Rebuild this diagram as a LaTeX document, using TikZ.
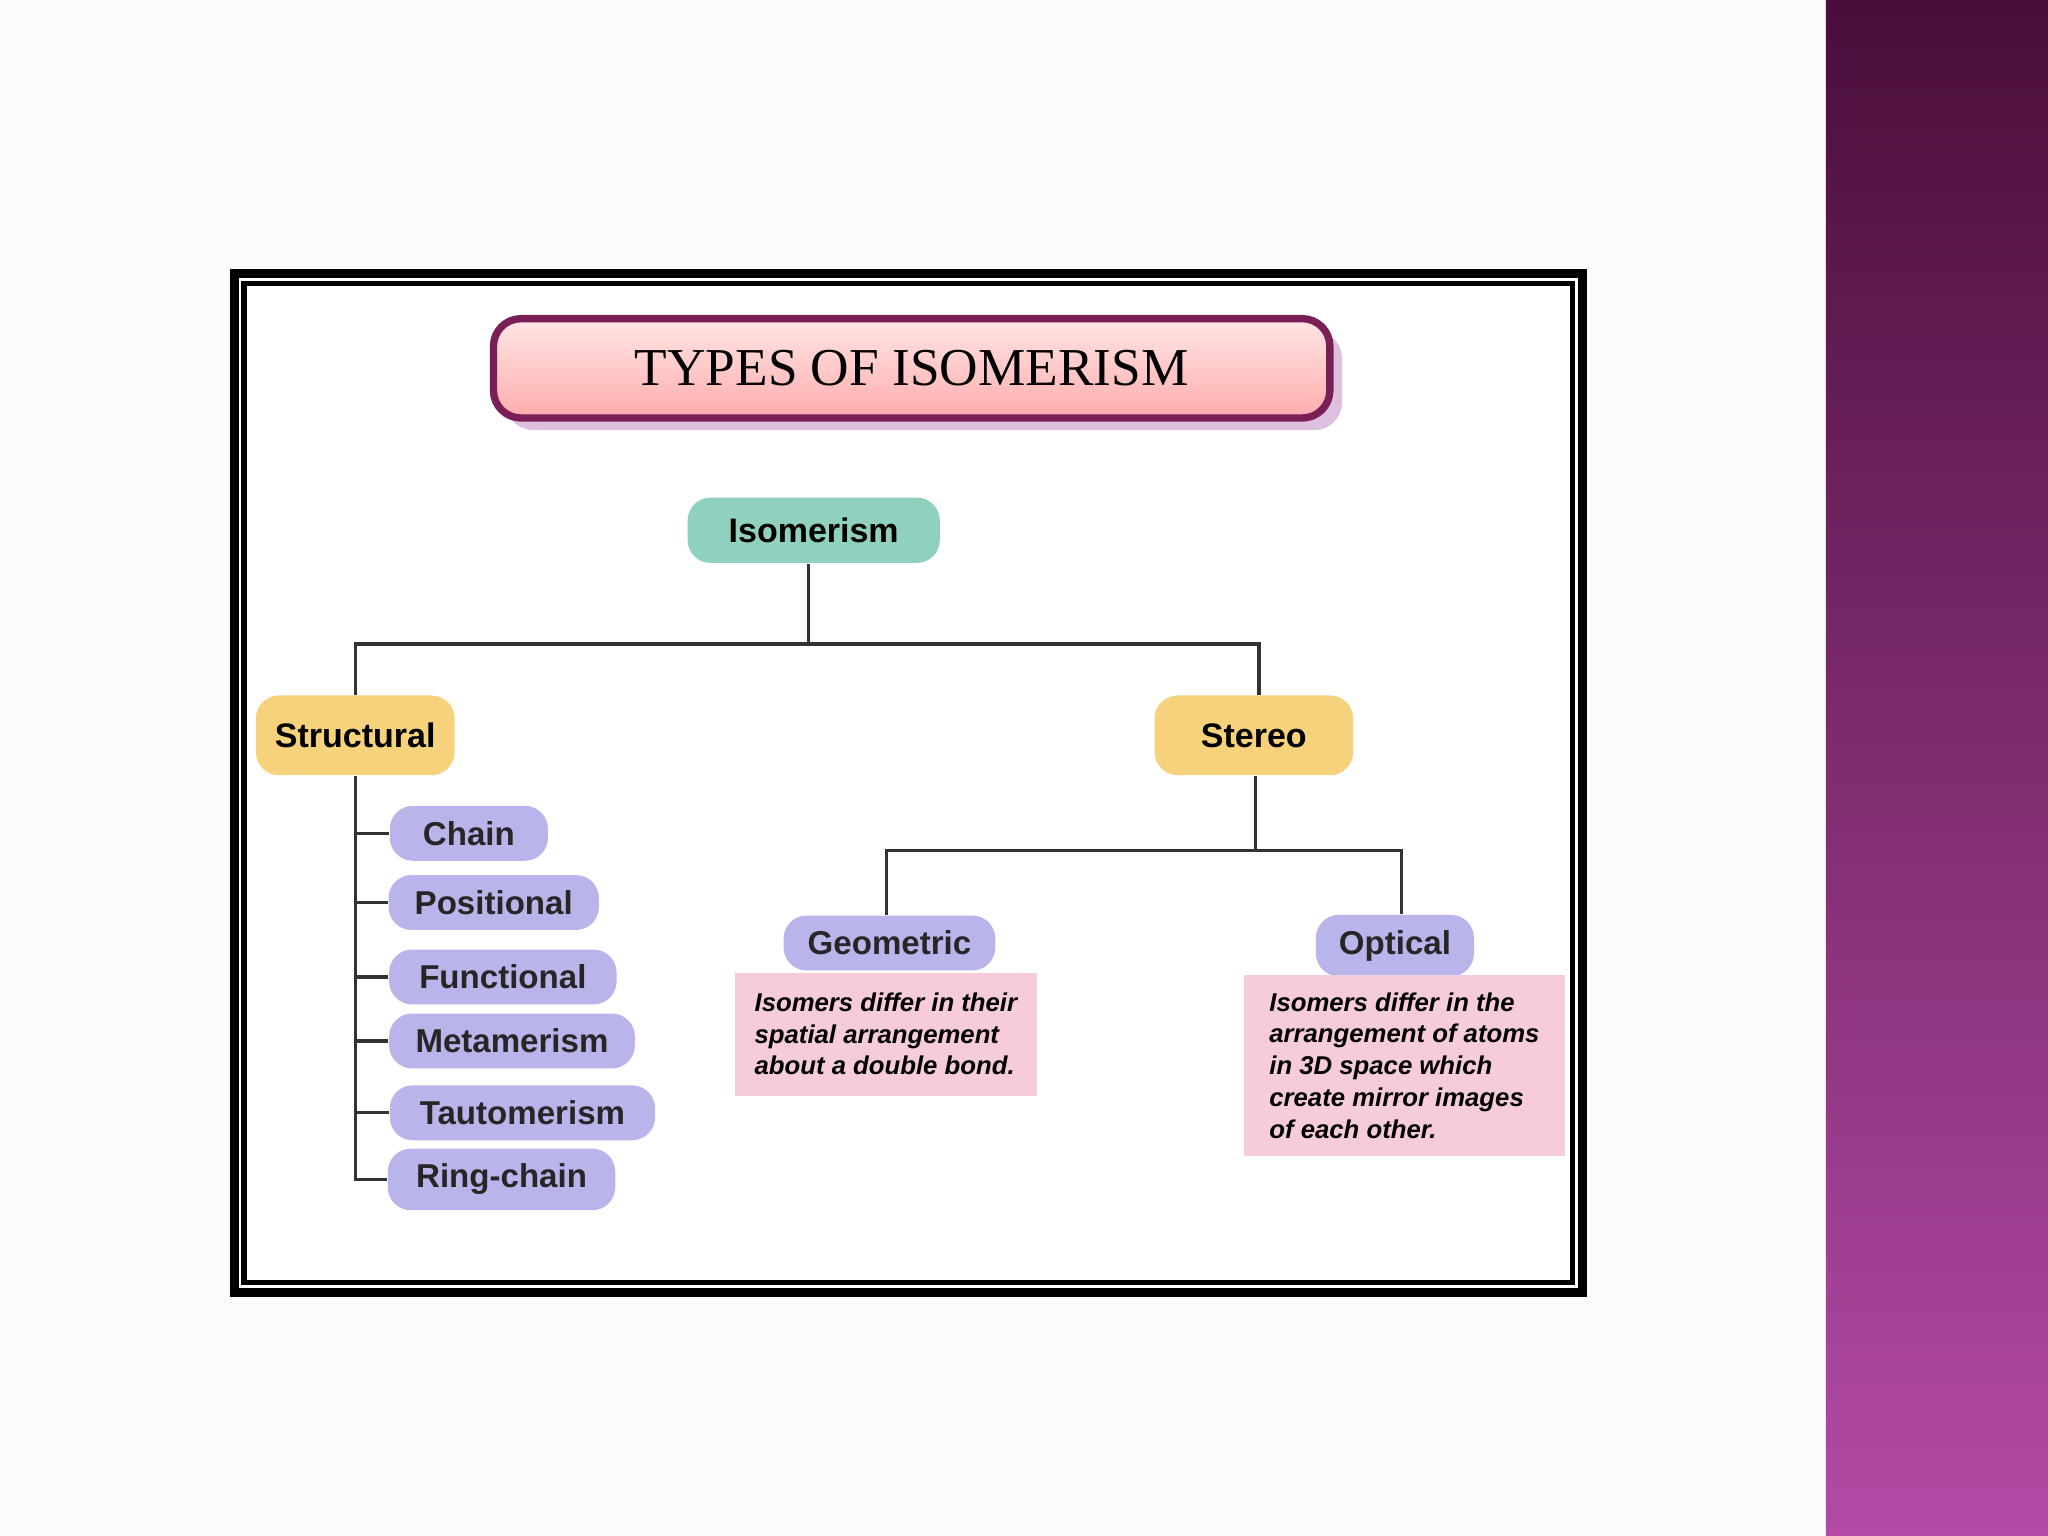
\documentclass[tikz,border=0pt]{standalone}
\usepackage{fontspec}
\setmainfont{Liberation Sans}
\newfontfamily\titlefont{Liberation Serif}
\usetikzlibrary{positioning,shapes,arrows,shadows}
\definecolor{bandtop}{HTML}{4A0E3A}
\definecolor{bandbot}{HTML}{B44AA6}
\definecolor{tealbox}{HTML}{8FD1BE}
\definecolor{yellowbox}{HTML}{F6D27C}
\definecolor{lilacbox}{HTML}{B9B4EA}
\definecolor{pinkbox}{HTML}{F6CCDC}
\definecolor{titleedge}{HTML}{7A1F55}
\tikzstyle{main} = [rectangle, rounded corners=5pt, fill=tealbox, font=\fontsize{7.4}{8}\bfseries, minimum width=1.93cm, minimum height=0.5cm]
\tikzstyle{branch} = [rectangle, rounded corners=5pt, fill=yellowbox, font=\fontsize{7.4}{8}\bfseries, minimum width=1.52cm, minimum height=0.61cm]
\tikzstyle{kind} = [rectangle, rounded corners=5pt, fill=lilacbox, text=black!85, font=\fontsize{7.2}{8}\bfseries, minimum height=0.38cm, inner xsep=4pt]
\tikzstyle{note} = [rectangle, fill=pinkbox, font=\fontsize{5.6}{6.9}\bfseries\itshape, align=left, anchor=north west, inner sep=3pt]
\tikzstyle{line} = [draw, line width=0.7pt, black!80]
\begin{document}
\begin{tikzpicture}[x=0.01cm, y=-0.01cm]
    % Page and side band
    \useasboundingbox (0,0) rectangle (1568,1176);
    \fill[white!97!gray] (0,0) rectangle (1568,1176);
    \shade[top color=bandtop, bottom color=bandbot] (1398,0) rectangle (1568,1176);
    % Frame
    \fill[black] (176,206) rectangle (1215,993);
    \fill[white] (183,213) rectangle (1208,986);
    \draw[line width=1.2pt] (187,217) rectangle (1204,982);
    \fill[white] (191,221) rectangle (1200,978);
    % Title
    \node [rectangle, rounded corners=6pt, draw=titleedge, line width=1.6pt,
           top color=pink!40, bottom color=pink!90!red,
           minimum width=6.4cm, minimum height=0.76cm,
           font=\titlefont\fontsize{11.6}{12}\selectfont,
           drop shadow={opacity=0.25, fill=violet}] (title) at (698,282) {TYPES OF ISOMERISM};
    % Blocks
    \node [main] (iso) at (623,406) {Isomerism};
    \node [branch] (struct) at (272,563) {Structural};
    \node [branch] (stereo) at (960,563) {Stereo};
    \node [kind, minimum width=1.21cm] (chain) at (359,638) {Chain};
    \node [kind, minimum width=1.61cm] (posit) at (378,691) {Positional};
    \node [kind, minimum width=1.74cm] (funct) at (385,748) {Functional};
    \node [kind, minimum width=1.88cm] (meta) at (392,797) {Metamerism};
    \node [kind, minimum width=2.03cm] (tauto) at (400,852) {Tautomerism};
    \node [kind, minimum width=1.74cm] (ring) at (384,903) {Ring-chain};
    \node [kind, minimum width=1.62cm] (geom) at (681,722) {Geometric};
    \node [kind, minimum width=1.21cm] (opt) at (1068,724) {Optical};
    \node [note, minimum width=2.31cm, minimum height=0.94cm] (geomtxt) at (562,744)
      {Isomers differ in their\\spatial arrangement\\about a double bond.};
    \node [note, minimum width=2.45cm, minimum height=1.38cm] (opttxt) at (952,746)
      {Isomers differ in the\\arrangement of atoms\\in 3D space which\\create mirror images\\of each other.};
    % Lines
    \coordinate (split) at (619,493);
    \coordinate (ssplit) at (961,651);
    \path [line] (iso.south -| split) -- (split);
    \path [line] (struct.north) |- (split) -| (stereo.north -| 964,0);
    \path [line] (stereo.south -| ssplit) -- (ssplit);
    \path [line] (geom.north -| 679,0) |- (ssplit) -| (opt.north -| 1073,0);
    \path [line] (struct.south) |- (ring.west);
    \foreach \k in {chain,posit,funct,meta,tauto}
      \path [line] (\k.west) -- (\k.west -| struct.south);
\end{tikzpicture}
\end{document}
